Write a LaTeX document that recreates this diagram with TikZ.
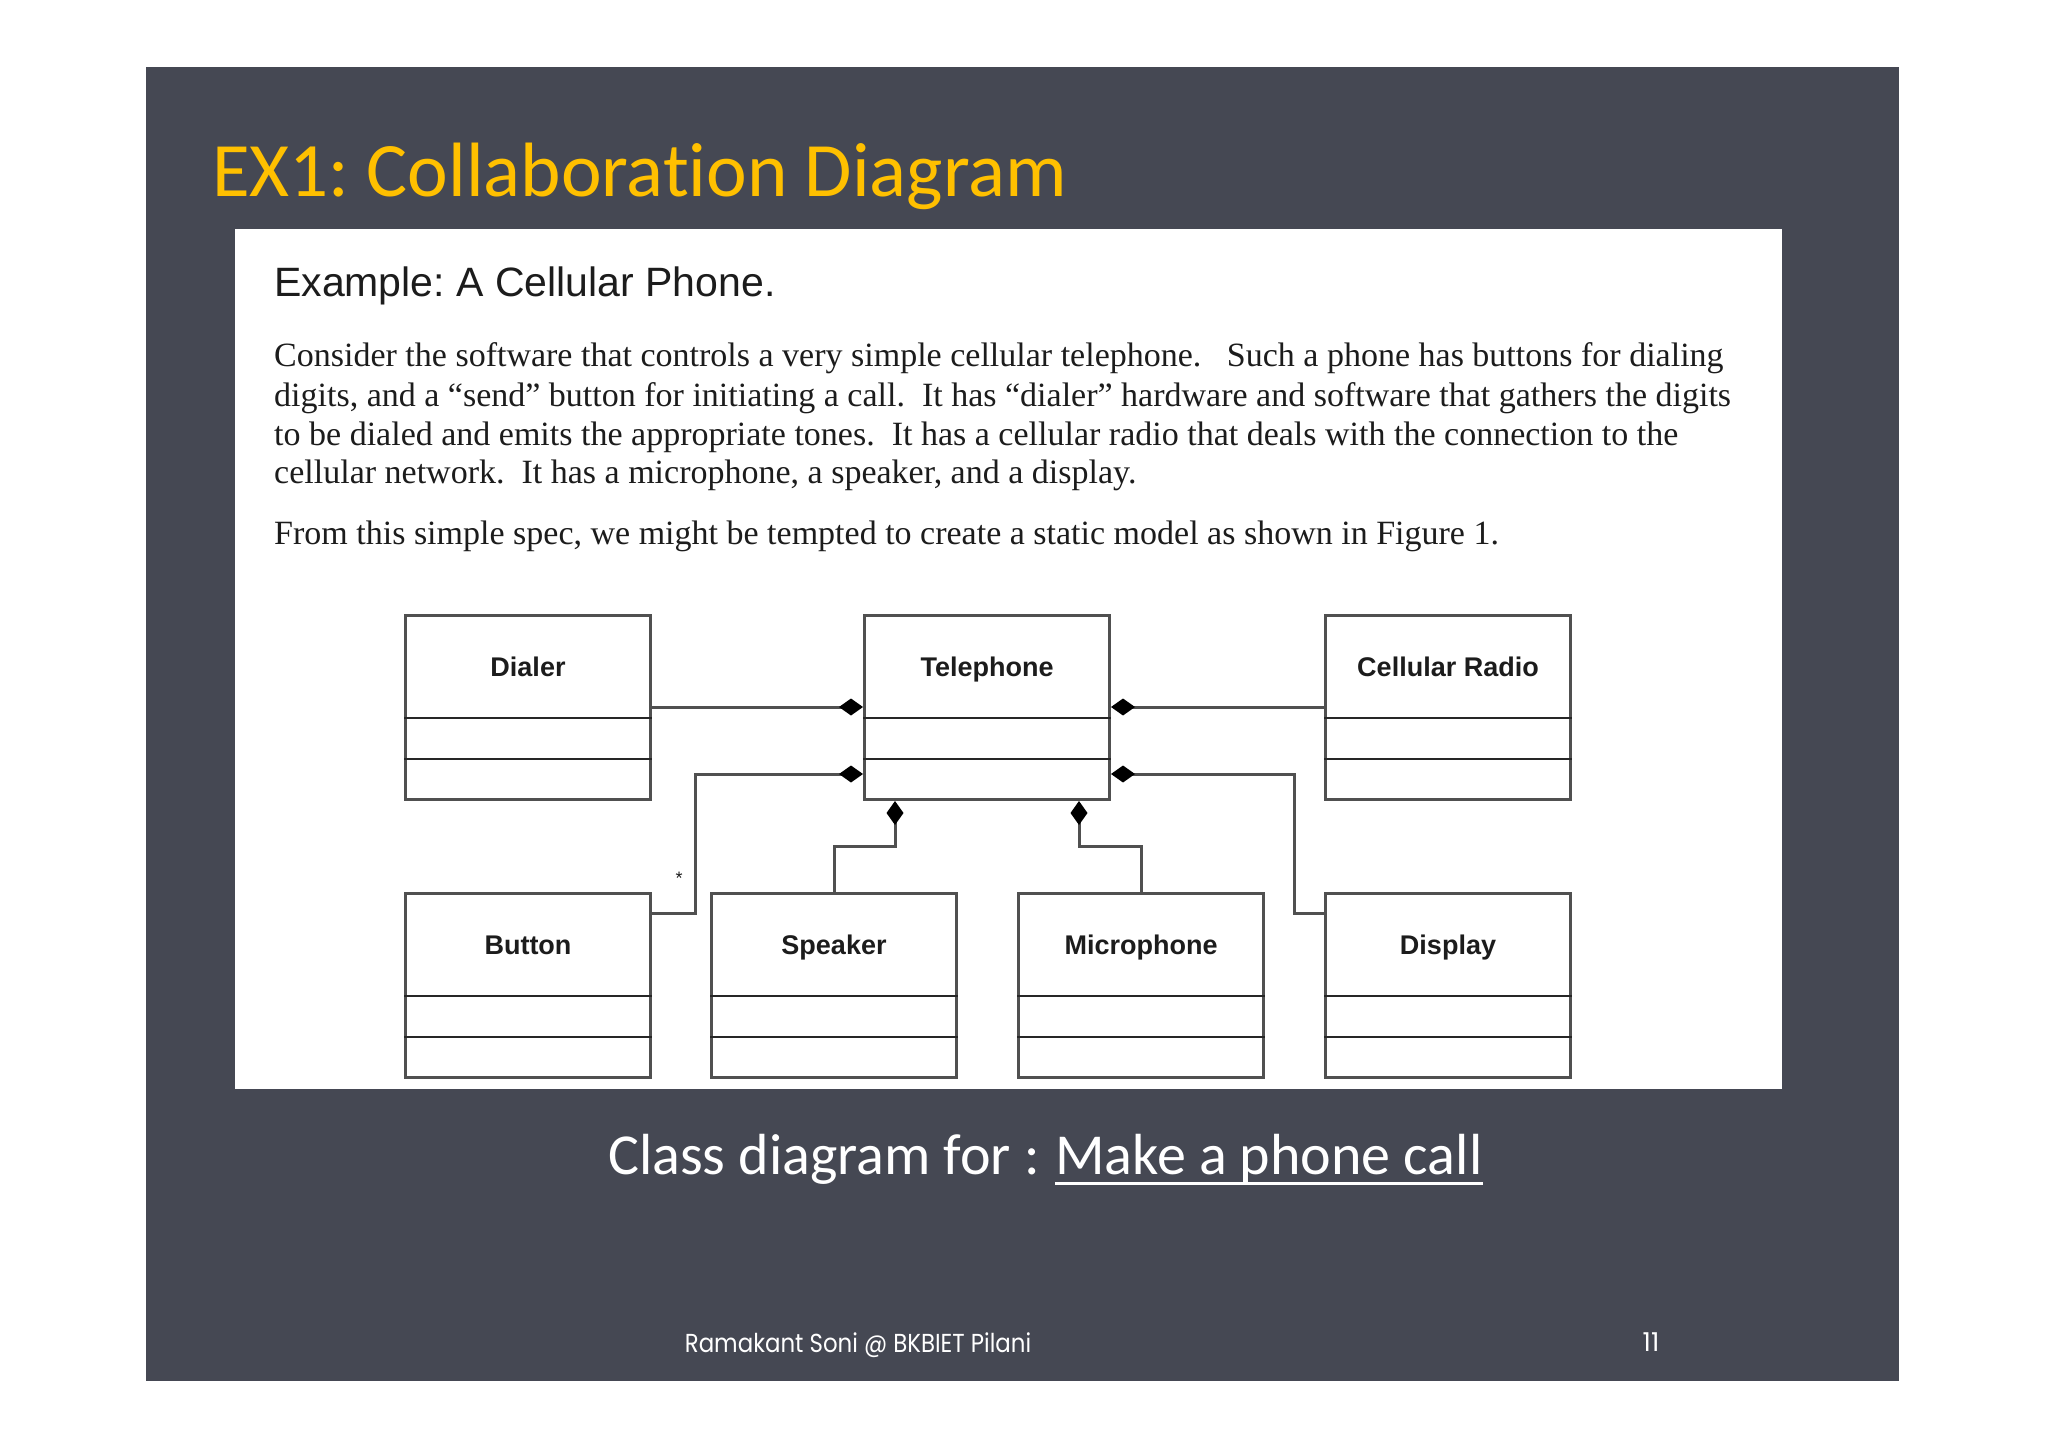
\documentclass[tikz,border=0pt]{standalone}
\usepackage{fontspec}
\setmainfont{Liberation Serif}
\newfontfamily\calibri[Ligatures=NoCommon]{Carlito}
\newfontfamily\arialf{Liberation Sans}
\newfontfamily\gothic{Poppins}
\usetikzlibrary{arrows.meta,calc}
\definecolor{slide}{RGB}{69,72,83}
\definecolor{gold}{RGB}{255,192,0}
\definecolor{ink}{RGB}{28,28,28}
\definecolor{linegray}{RGB}{80,80,80}
\frenchspacing
\tikzset{
  clsbox/.style={draw=linegray, line width=3pt, minimum width=245pt, minimum height=184pt, inner sep=0pt, anchor=north west},
  clslabel/.style={font=\arialf\bfseries\fontsize{27}{31}\selectfont, text=ink, anchor=base, inner sep=0pt},
  divider/.style={draw=black!85, line width=2.6pt},
  conn/.style={draw=linegray, line width=3pt},
  comp/.style={conn, -{Diamond[length=24pt,width=17pt,fill=black,color=black]}},
  para/.style={font=\fontsize{34}{38}\selectfont, text=ink, anchor=base west, inner sep=0pt},
}
\newcommand\umlcls[4]{%
  \node[clsbox] (#1) at (#2,#3) {};
  \node[clslabel] (#1-l) at ($(#1.north)+(0,62)$) {#4};
  \draw[divider] ($(#1.north west)+(0,104)$) -- ($(#1.north east)+(0,104)$);
  \draw[divider] ($(#1.north west)+(0,145)$) -- ($(#1.north east)+(0,145)$);
}
\begin{document}
\begin{tikzpicture}[x=1pt,y=-1pt]
\useasboundingbox (0,0) rectangle (2048,1448);
\fill[white] (0,0) rectangle (2048,1448);
\fill[slide] (146,67) rectangle (1899,1381);
\fill[white] (235,229) rectangle (1782,1089);

\node[font=\calibri\fontsize{77}{90}\selectfont, text=gold, anchor=base west, inner sep=0pt] (title) at (212,196) {EX1: Collaboration Diagram};

\node[font=\arialf\fontsize{41}{48}\selectfont, text=ink, anchor=base west, inner sep=0pt] (ex) at (274,296) {Example: A Cellular Phone.};

\node[para] (p1) at (274,366) {Consider the software that controls a very simple cellular telephone.\ \ \ Such a phone has buttons for dialing};
\node[para] (p2) at (274,406) {digits, and a “send” button for initiating a call.\ \ It has “dialer” hardware and software that gathers the digits};
\node[para] (p3) at (274,445) {to be dialed and emits the appropriate tones.\ \ It has a cellular radio that deals with the connection to the};
\node[para] (p4) at (274,483) {cellular network.\ \ It has a microphone, a speaker, and a display.};
\node[para] (p5) at (274,544) {From this simple spec, we might be tempted to create a static model as shown in Figure 1.};

\umlcls{dialer}{404}{614}{Dialer}
\umlcls{tel}{863}{614}{Telephone}
\umlcls{radio}{1324}{614}{Cellular Radio}
\umlcls{button}{404}{892}{Button}
\umlcls{speaker}{710}{892}{Speaker}
\umlcls{mic}{1017}{892}{Microphone}
\umlcls{display}{1324}{892}{Display}

\coordinate (r1) at (0,707);
\coordinate (r2) at (0,774);
\coordinate (r3) at (0,913);
\coordinate (bk) at (695,0);
\coordinate (dk) at (1294,0);
\coordinate (sk) at (895,846);
\coordinate (mk) at (1079,846);

\draw[comp] (dialer.east |- r1) -- (tel.west |- r1);
\draw[comp] (radio.west |- r1) -- (tel.east |- r1);
\draw[comp] (button.east |- r3) -| (bk |- r2) -- (tel.west |- r2);
\draw[comp] (display.west |- r3) -| (dk |- r2) -- (tel.east |- r2);
\draw[comp] (speaker.north) |- (sk) -- (sk |- tel.south);
\draw[comp] (mic.north) |- (mk) -- (mk |- tel.south);

\node[font=\arialf\fontsize{18}{20}\selectfont, text=ink, inner sep=0pt] (star) at (679,878) {*};

\node[font=\calibri\fontsize{58}{66}\selectfont, text=white, anchor=base east, inner sep=0pt] (cap1) at (1040,1174) {Class diagram for :};
\node[font=\calibri\fontsize{58}{66}\selectfont, text=white, anchor=base west, inner sep=0pt] (cap2) at (1055,1174) {Make a phone call};
\draw[white, line width=3pt] ($(cap2.base west)+(0,9)$) -- ($(cap2.base east)+(0,9)$);

\node[font=\gothic\fontsize{26}{30}\selectfont, text=white, anchor=base, inner sep=0pt] (foot) at (858,1352) {\scalebox{0.88}[1]{Ramakant Soni @ BKBIET Pilani}};
\node[font=\gothic\fontsize{26}{30}\selectfont, text=white, anchor=base, inner sep=0pt] (pg) at (1651,1351) {11};
\end{tikzpicture}
\end{document}
